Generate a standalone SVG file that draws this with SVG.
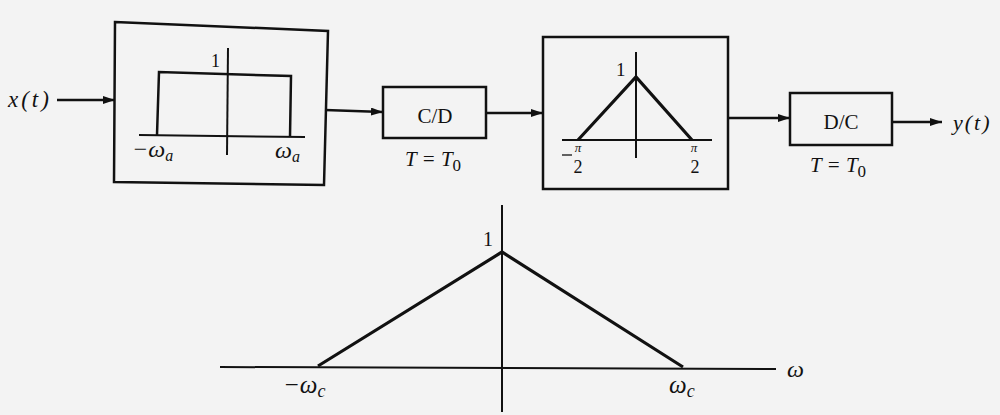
<svg xmlns="http://www.w3.org/2000/svg" width="1000" height="415" viewBox="0 0 1000 415">
<style>
.s{fill:none;stroke:#111;stroke-width:2.5}
.t{stroke:#111;stroke-width:3.2}
.ax{fill:none;stroke:#111;stroke-width:2}
.m{font-family:"Liberation Serif",serif;font-style:italic;fill:#111}
.r{font-family:"Liberation Serif",serif;fill:#111}
</style>
<defs>
<marker id="ah" viewBox="0 0 12 8" refX="12" refY="4" markerWidth="12" markerHeight="8" markerUnits="userSpaceOnUse" orient="auto">
<path d="M0,0 L12,4 L0,8 Z" fill="#111"/>
</marker>
</defs>
<rect width="1000" height="415" fill="#f3f3f3"/>
<g id="connectors">
<line class="s" x1="57" y1="100" x2="115" y2="100" marker-end="url(#ah)"/>
<line class="s" x1="325" y1="110" x2="383" y2="112" marker-end="url(#ah)"/>
<line class="s" x1="486" y1="113" x2="543" y2="113" marker-end="url(#ah)"/>
<line class="s" x1="728" y1="118" x2="790" y2="118" marker-end="url(#ah)"/>
<line class="s" x1="892" y1="122" x2="942" y2="122" marker-end="url(#ah)"/>
</g>
<g id="input">
<text class="m" x="8" y="107" font-size="23" letter-spacing="3">x(t)</text>
</g>
<g id="lowpass">
<polygon class="s" points="115,22 328,31 324,185 114,182"/>
<line class="ax" x1="139" y1="135" x2="305" y2="137"/>
<line class="ax" x1="228" y1="48" x2="227" y2="155"/>
<polyline class="s" points="157,135 159,72 291,76 290,137"/>
<text class="r" x="211" y="67" font-size="18">1</text>
<text class="m" x="132" y="157" font-size="24">−ω<tspan font-size="16" dy="4">a</tspan></text>
<text class="m" x="275" y="158" font-size="24">ω<tspan font-size="16" dy="4">a</tspan></text>
</g>
<g id="cd">
<rect class="s" x="383" y="87" width="103" height="51"/>
<text class="r" x="435" y="123" font-size="21" text-anchor="middle">C/D</text>
<text class="m" x="433" y="166" font-size="21" text-anchor="middle">T = T<tspan font-style="normal" font-size="17" dy="5">0</tspan></text>
</g>
<g id="dtfilter">
<rect class="s" x="543" y="37" width="185" height="152"/>
<line class="ax" x1="562" y1="140" x2="712" y2="140"/>
<line class="ax" x1="636" y1="52" x2="636" y2="158"/>
<polyline class="t" fill="none" points="578,140 636,77 692,140"/>
<text class="r" x="616" y="76" font-size="19">1</text>
<line x1="562" y1="155" x2="572" y2="155" stroke="#111" stroke-width="1.3"/>
<text class="m" x="578" y="152" font-size="13" text-anchor="middle">π</text>
<text class="r" x="578" y="173" font-size="18" text-anchor="middle">2</text>
<text class="m" x="694" y="152" font-size="13" text-anchor="middle">π</text>
<text class="r" x="695" y="173" font-size="18" text-anchor="middle">2</text>
</g>
<g id="dc">
<rect class="s" x="790" y="93" width="102" height="52"/>
<text class="r" x="841" y="129" font-size="21" text-anchor="middle">D/C</text>
<text class="m" x="838" y="172" font-size="21" text-anchor="middle">T = T<tspan font-style="normal" font-size="17" dy="5">0</tspan></text>
</g>
<g id="output">
<text class="m" x="953" y="130" font-size="22" letter-spacing="2">y(t)</text>
</g>
<g id="response">
<line class="ax" x1="220" y1="367" x2="776" y2="369"/>
<line class="ax" x1="502" y1="205" x2="502" y2="412"/>
<polyline class="t" fill="none" points="318,366 502,252 683,367"/>
<text class="r" x="483" y="246" font-size="20">1</text>
<text class="m" x="283" y="393" font-size="25">−ω<tspan font-size="18" dy="4">c</tspan></text>
<text class="m" x="669" y="393" font-size="25">ω<tspan font-size="18" dy="4">c</tspan></text>
<text class="m" x="787" y="377" font-size="24">ω</text>
</g>
</svg>
